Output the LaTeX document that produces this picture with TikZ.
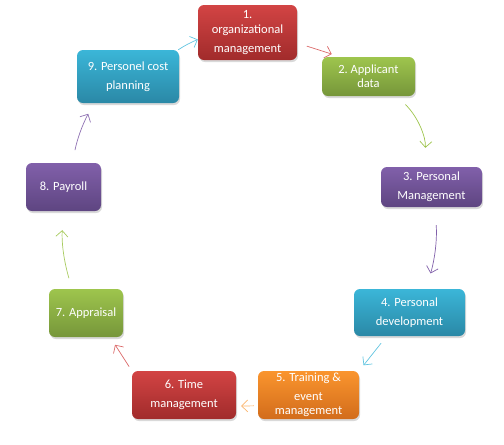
\documentclass[tikz,border=0pt]{standalone}
\usepackage{fontspec}
\setmainfont{Carlito}
\usetikzlibrary{arrows.meta,shadows}

\definecolor{redtop}{HTML}{D24444}
\definecolor{redbot}{HTML}{A12B2B}
\definecolor{greentop}{HTML}{9EC54D}
\definecolor{greenbot}{HTML}{76963A}
\definecolor{purpletop}{HTML}{8160AA}
\definecolor{purplebot}{HTML}{5E4581}
\definecolor{bluetop}{HTML}{3BB6D8}
\definecolor{bluebot}{HTML}{2A88A6}
\definecolor{orangetop}{HTML}{FA952E}
\definecolor{orangebot}{HTML}{D26C1B}

\begin{document}
\begin{tikzpicture}[x=1pt, y=-1pt,
    stagebox/.style={rectangle, rounded corners=6pt, inner sep=0pt, align=center,
        text=white, font=\fontsize{12.5}{19}\selectfont,
        drop shadow={opacity=0.3, shadow xshift=1pt, shadow yshift=-2pt}},
    redbox/.style={stagebox, top color=redtop, bottom color=redbot},
    greenbox/.style={stagebox, top color=greentop, bottom color=greenbot},
    purplebox/.style={stagebox, top color=purpletop, bottom color=purplebot},
    bluebox/.style={stagebox, top color=bluetop, bottom color=bluebot},
    orangebox/.style={stagebox, top color=orangetop, bottom color=orangebot},
    flow/.style={-{Straight Barb[length=6pt, width=12pt]}, line width=0.7pt}]
    \useasboundingbox (0,0) rectangle (504,445);

    \node[redbox, minimum width=99pt, minimum height=55pt] (p1) at (247.5,32.5) {1.\\[-4pt] organizational\\ management};
    \node[greenbox, minimum width=93pt, minimum height=39pt, font=\fontsize{12.5}{14}\selectfont] (p2) at (368.5,76.5) {2.\ Applicant\\ data};
    \node[purplebox, minimum width=101pt, minimum height=40pt] (p3) at (431.5,187) {3. Personal\\ Management};
    \node[bluebox, minimum width=111pt, minimum height=47pt] (p4) at (409.5,312.5) {4. Personal\\ development};
    \node[orangebox, minimum width=101pt, minimum height=48pt] (p5) at (308.5,395) {5. Training \&\\ event\\[-5pt] management};
    \node[redbox, minimum width=104pt, minimum height=48pt] (p6) at (184,395) {6. Time\\ management};
    \node[greenbox, minimum width=74pt, minimum height=48pt] (p7) at (86,313) {7. Appraisal};
    \node[purplebox, minimum width=75pt, minimum height=48pt] (p8) at (63.5,187) {8. Payroll};
    \node[bluebox, minimum width=102pt, minimum height=53pt] (p9) at (128,76.5) {9. Personel cost\\ planning};

    \draw[flow, bluetop!80] (p9.28) to[bend left=5] (p1.188);
    \draw[flow, redtop!80, shorten <=10pt, shorten >=9pt] (p1.-12) -- (p2.145);
    \draw[flow, greentop, shorten <=12pt, shorten >=19pt] (p2.-35) to[bend left=25] (p3.110);
    \draw[flow, purpletop, shorten <=18pt, shorten >=16pt] (p3.-80) to[bend left=10] (p4.55);
    \draw[flow, bluetop!80, shorten <=9pt, shorten >=7pt] (p4.-134) -- (p5.north east);
    \draw[flow, orangetop!70, shorten <=4pt, shorten >=5pt] (p5.-168) -- (p6.-12);
    \draw[flow, redtop!80, shorten <=5pt, shorten >=9pt] (p6.north west) -- (p7.-45);
    \draw[flow, greentop!90, shorten <=11pt, shorten >=19pt] (p7.120) to[bend left=10] (p8.south);
    \draw[flow, purpletop!90, shorten <=13pt, shorten >=12pt] (p8.70) to[bend left=8] (p9.-142);
\end{tikzpicture}
\end{document}
